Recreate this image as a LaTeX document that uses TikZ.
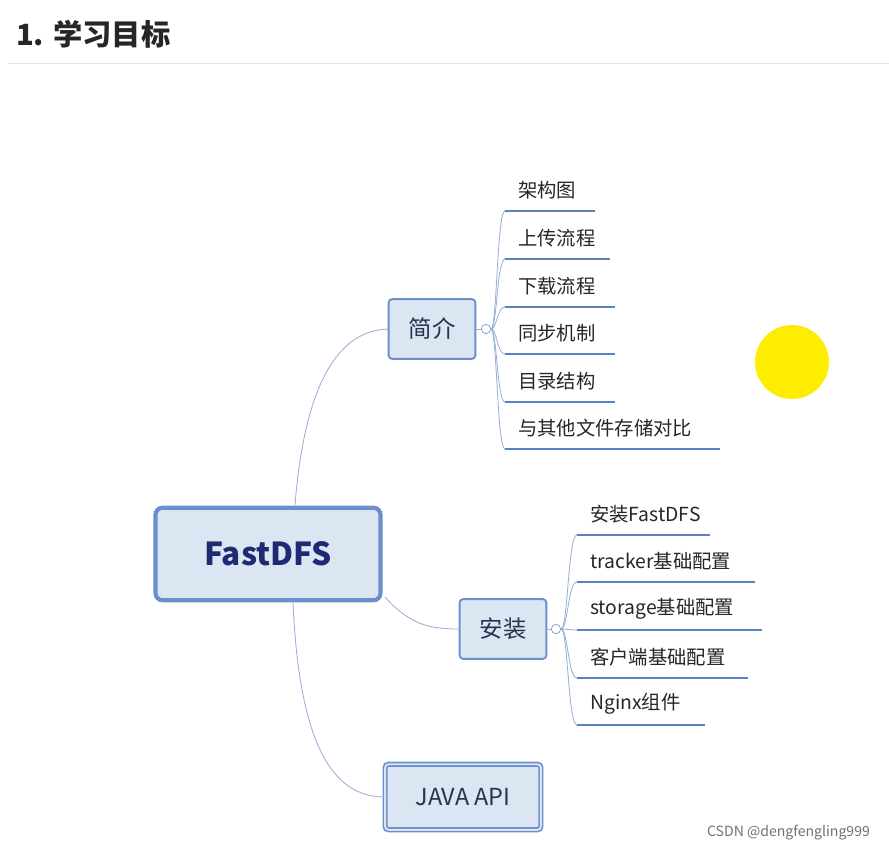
\documentclass[tikz,border=0pt]{standalone}
\usepackage{fontspec}
\setmainfont{Noto Sans CJK SC}
\begin{document}
\begin{tikzpicture}[x=0.03cm,y=-0.03cm,
 bx/.style={draw=boxb,fill=boxf,rounded corners=3pt,line width=1.6pt,text=txt,outer sep=0pt},
 br/.style={draw=lineb!80,line width=0.7pt},
 ul/.style={draw=ulb,line width=2pt},
 leaf/.style={anchor=west,font=\fontsize{16.5}{16.5}\selectfont,text=black!85,inner sep=0pt},
 tog/.style={circle,draw=lineb,fill=white,inner sep=0pt,minimum size=8pt,line width=0.6pt}]
\definecolor{boxb}{HTML}{6A8FCB}\definecolor{boxf}{HTML}{DCE6F3}
\definecolor{txt}{HTML}{25344F}\definecolor{lineb}{HTML}{7E9BCD}\definecolor{ulb}{HTML}{5B83C4}
\useasboundingbox (0,0) rectangle (889,854);
\fill[white] (0,0) rectangle (889,854);
\node[anchor=west,font=\fontsize{25}{25}\selectfont\bfseries,text=black!85] (title) at (12,34) {1. 学习目标};
\draw[black!10,line width=0.6pt] (8,63) -- (889,63);
\fill[yellow!95!orange] (792,362) circle (37);
% boxes
\node[bx,line width=3.5pt,minimum width=192pt,minimum height=79pt,rounded corners=6pt,font=\fontsize{27}{27}\selectfont\bfseries,text=txt!80!blue] (root) at (268,554) {FastDFS};
\node[bx,minimum width=74pt,minimum height=51pt,font=\fontsize{20}{20}\selectfont] (jj) at (432,329) {简介};
\node[bx,minimum width=74pt,minimum height=51pt,font=\fontsize{20}{20}\selectfont] (az) at (503,629) {安装};
\node[bx,double=boxf,double distance=1.6pt,line width=1.4pt,minimum width=133pt,minimum height=56pt,font=\fontsize{20}{20}\selectfont] (api) at (463,797) {JAVA API};
% branches
\draw[br] (295,505) .. controls (305,380) and (340,330) .. (jj.west);
\draw[br] (385,597) .. controls (410,625) and (430,629) .. (az.west);
\draw[br] (293,603) .. controls (300,760) and (340,797) .. (api.west);
\node[tog] (t1) at (486,329) {};
\node[tog] (t2) at (556,629) {};
\draw[br] (jj.east) -- (t1.west);
\draw[br] (az.east) -- (t2.west);
% leaves intro
\foreach \n/\y/\e/\t in {a/190/595/架构图,b/238/610/上传流程,c/286/615/下载流程,d/333/615/同步机制,e/381/615/目录结构,f/428/720/与其他文件存储对比}{
 \node[leaf] (l\n) at (518,\y) {\t};
 \coordinate (s\n) at (505,\y+21);
 \coordinate (e\n) at (\e,\y+21);
 \draw[ul] (s\n) -- (e\n);
 \draw[br] (t1.east) .. controls (497,329) and (497,\y+21) .. (s\n);
}
\foreach \n/\y/\e/\t in {g/514/710/安装FastDFS,h/561/755/tracker基础配置,i/609/762/storage基础配置,j/657/748/客户端基础配置,k/704/705/Nginx组件}{
 \node[leaf] (l\n) at (590,\y) {\t};
 \coordinate (s\n) at (577,\y+21);
 \coordinate (e\n) at (\e,\y+21);
 \draw[ul] (s\n) -- (e\n);
 \draw[br] (t2.east) .. controls (568,629) and (568,\y+21) .. (s\n);
}
\node[anchor=east,font=\fontsize{12}{12}\selectfont,text=black!55] (wm) at (874,833) {CSDN @dengfengling999};
\end{tikzpicture}
\end{document}
